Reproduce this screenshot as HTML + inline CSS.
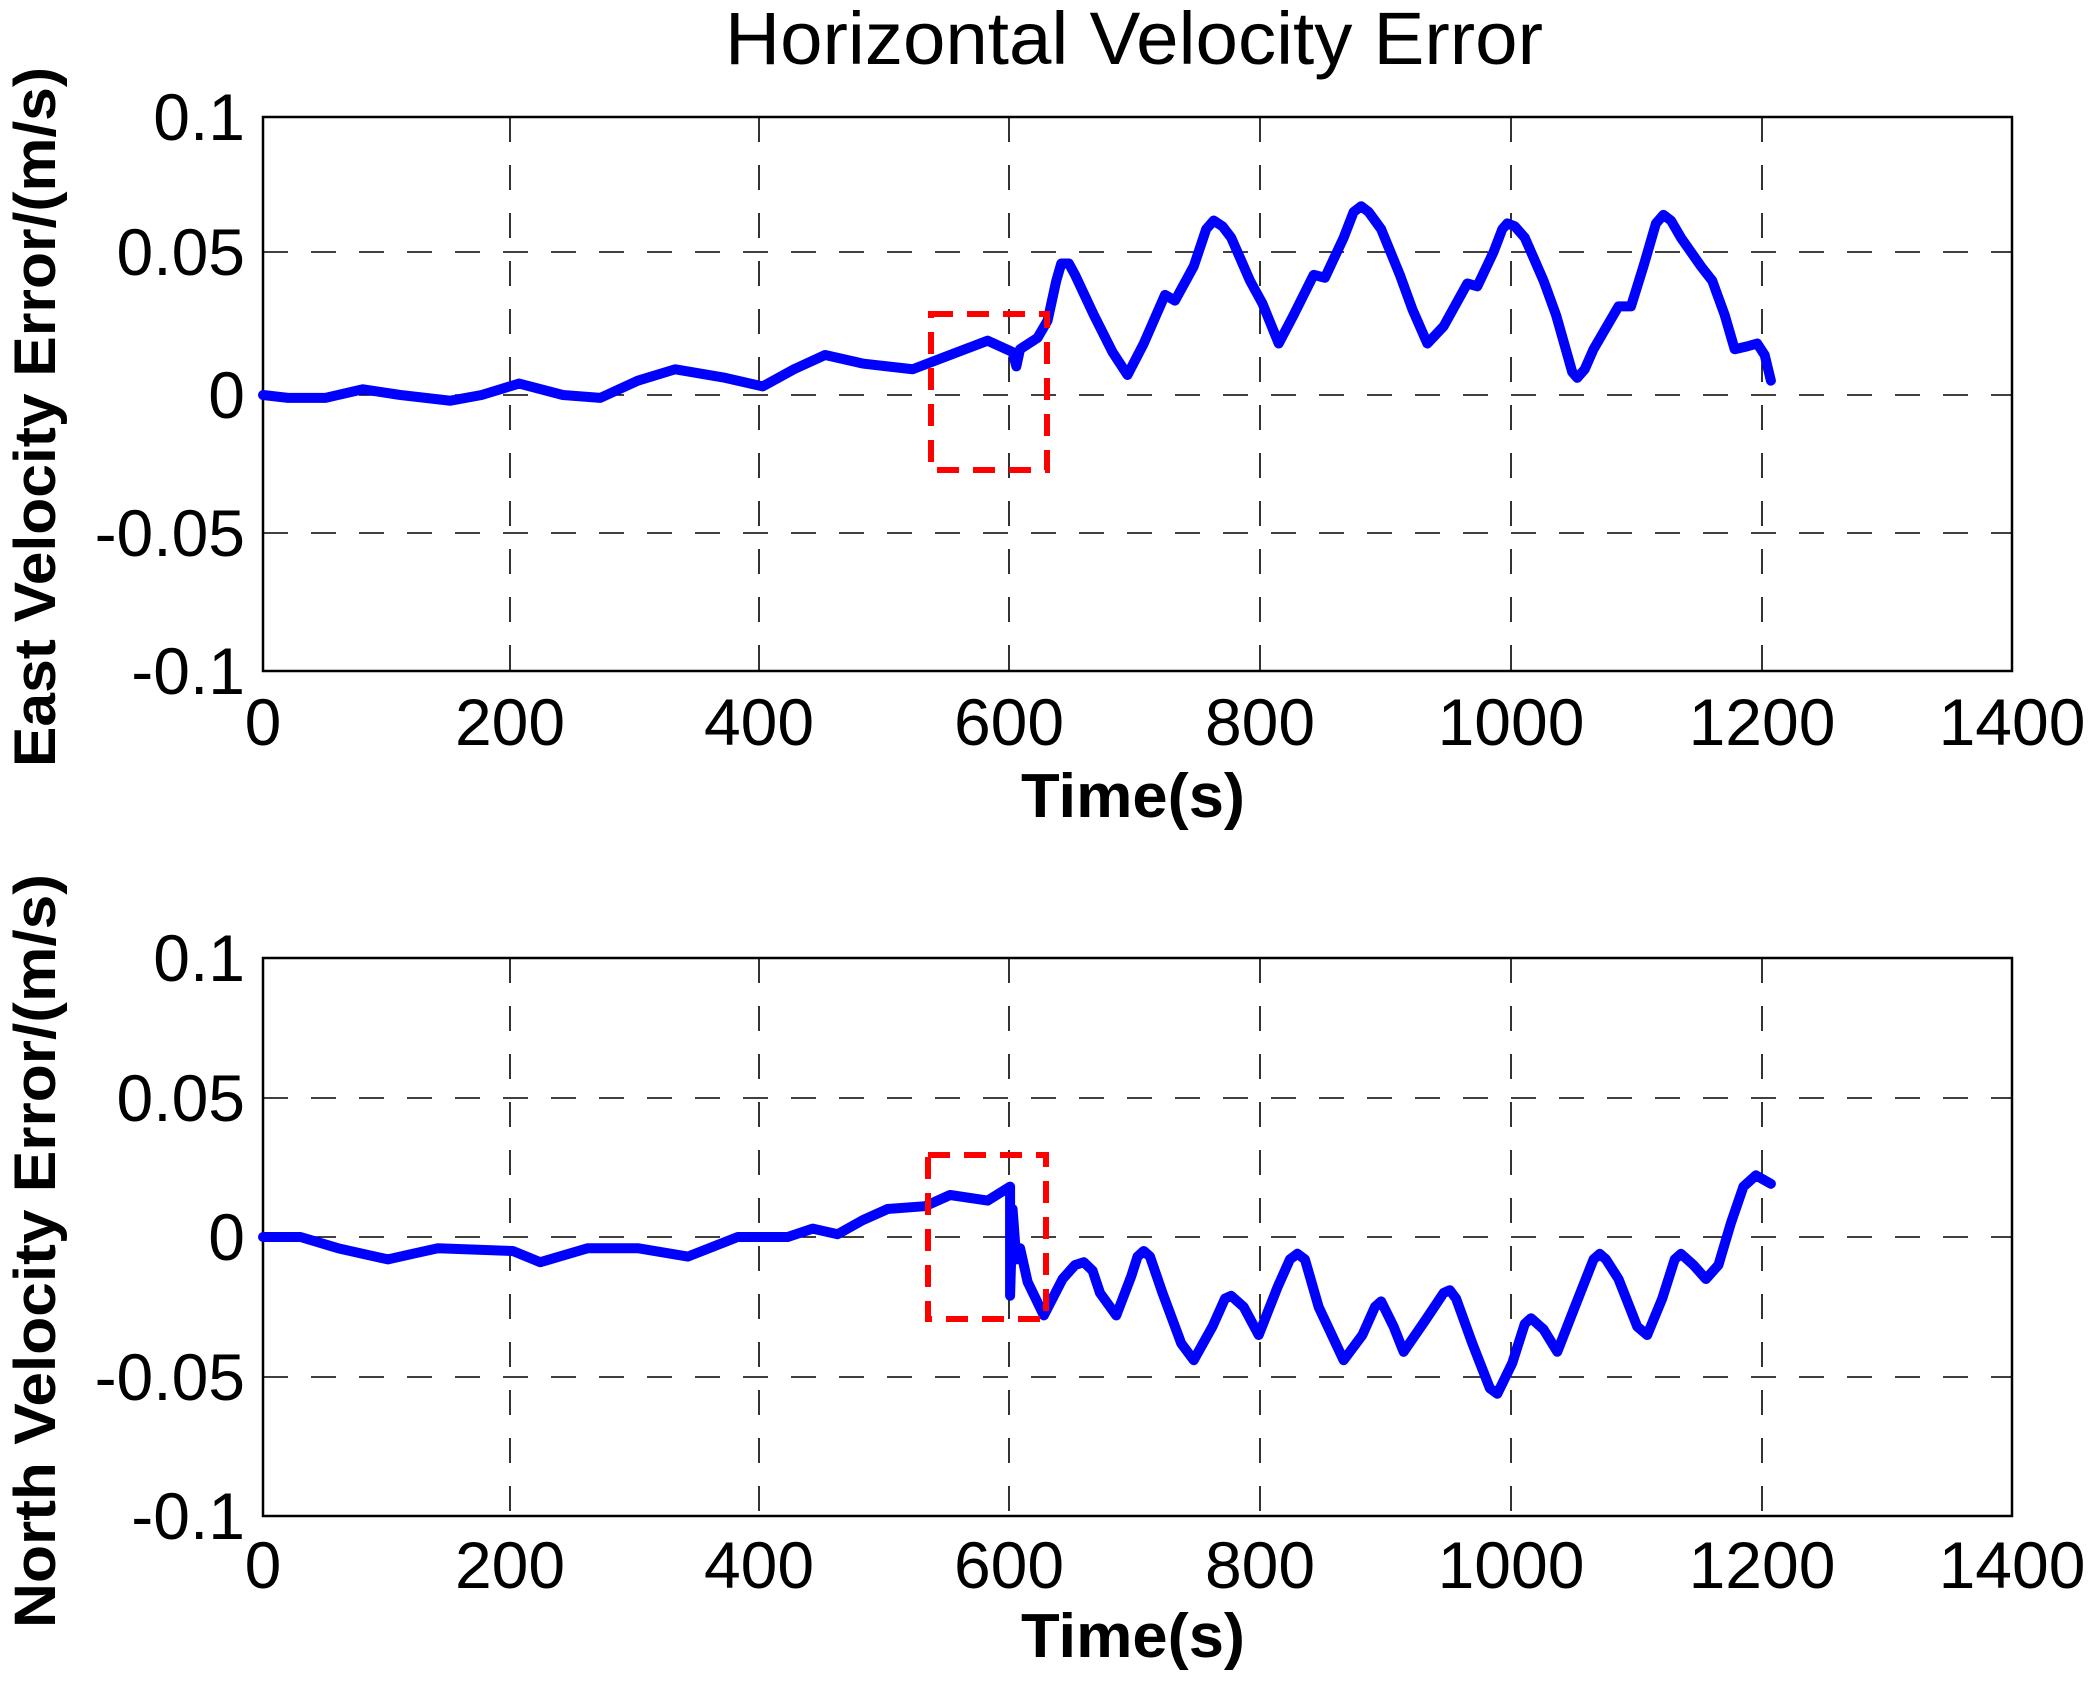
<!DOCTYPE html>
<html><head><meta charset="utf-8"><style>
html,body{margin:0;padding:0;background:#fff}
svg{display:block}
text{font-family:"Liberation Sans",Arial,sans-serif;fill:#000}
</style></head><body>
<svg width="2092" height="1683" viewBox="0 0 2092 1683" xmlns="http://www.w3.org/2000/svg">
<rect width="2092" height="1683" fill="#fff"/>
<text x="1134" y="64" font-size="74" text-anchor="middle" textLength="818" lengthAdjust="spacingAndGlyphs">Horizontal Velocity Error</text>

<!-- TOP PANEL -->
<g stroke="#000" stroke-width="1.6" stroke-dasharray="25 23" fill="none">
<line x1="263" y1="252" x2="2012" y2="252"/>
<line x1="263" y1="395" x2="2012" y2="395"/>
<line x1="263" y1="533" x2="2012" y2="533"/>
<line x1="510" y1="117" x2="510" y2="671"/>
<line x1="759" y1="117" x2="759" y2="671"/>
<line x1="1009" y1="117" x2="1009" y2="671"/>
<line x1="1260" y1="117" x2="1260" y2="671"/>
<line x1="1511" y1="117" x2="1511" y2="671"/>
<line x1="1762" y1="117" x2="1762" y2="671"/>
</g>
<rect x="263" y="117" width="1749" height="554" fill="none" stroke="#000" stroke-width="2.5"/>
<g font-size="66" text-anchor="end">
<text x="245" y="140">0.1</text>
<text x="245" y="275">0.05</text>
<text x="245" y="418">0</text>
<text x="245" y="556">-0.05</text>
<text x="245" y="694">-0.1</text>
</g>
<g font-size="66" text-anchor="middle">
<text x="263" y="745">0</text><text x="510" y="745">200</text><text x="759" y="745">400</text><text x="1009" y="745">600</text><text x="1260" y="745">800</text><text x="1511" y="745">1000</text><text x="1762" y="745">1200</text><text x="2012" y="745">1400</text>
</g>
<text x="1133" y="817" font-size="62" font-weight="bold" text-anchor="middle" textLength="224" lengthAdjust="spacingAndGlyphs">Time(s)</text>
<text transform="translate(55,417) rotate(-90)" font-size="58" font-weight="bold" text-anchor="middle" textLength="700" lengthAdjust="spacingAndGlyphs">East Velocity Error/(m/s)</text>

<g transform="translate(263,395) scale(1.2493,-2.86)">
<polyline vector-effect="non-scaling-stroke" fill="none" stroke="#0000ff" stroke-width="10" stroke-linejoin="round" stroke-linecap="round"
points="0,0 20,-1 50,-1 80,2 110,0 150,-2 175,0 205,4 240,0 270,-1 300,5 330,9 370,6 400,3 425,9 450,14 480,11 520,9 550,14 580,19 600,15 603,10 606,16 620,20 628,26 635,40 639,46 645,46 650,42 665,28 680,15 692,7 705,18 722,35 730,33 745,45 755,58 761,61 768,59 775,55 790,40 800,32 813,18 825,28 841,42 850,41 865,55 873,64 879,66 885,64 895,58 910,42 920,30 932,18 945,24 964,39 972,38 985,50 992,58 996,60 1002,59 1010,55 1025,40 1035,28 1048,8 1052,6 1058,9 1065,16 1085,31 1095,31 1105,45 1115,60 1121,63 1127,61 1135,55 1151,45 1160,40 1170,28 1178,16 1188,17 1196,18 1202,14 1207,5"/>
</g>
<rect x="931" y="314" width="116" height="156" fill="none" stroke="#ff0000" stroke-width="6" stroke-dasharray="22 14"/>

<!-- BOTTOM PANEL -->
<g stroke="#000" stroke-width="1.6" stroke-dasharray="25 23" fill="none">
<line x1="263" y1="1098" x2="2012" y2="1098"/>
<line x1="263" y1="1237" x2="2012" y2="1237"/>
<line x1="263" y1="1377" x2="2012" y2="1377"/>
<line x1="510" y1="958" x2="510" y2="1516"/>
<line x1="759" y1="958" x2="759" y2="1516"/>
<line x1="1009" y1="958" x2="1009" y2="1516"/>
<line x1="1260" y1="958" x2="1260" y2="1516"/>
<line x1="1511" y1="958" x2="1511" y2="1516"/>
<line x1="1762" y1="958" x2="1762" y2="1516"/>
</g>
<rect x="263" y="958" width="1749" height="558" fill="none" stroke="#000" stroke-width="2.5"/>
<g font-size="66" text-anchor="end">
<text x="245" y="981">0.1</text>
<text x="245" y="1121">0.05</text>
<text x="245" y="1260">0</text>
<text x="245" y="1400">-0.05</text>
<text x="245" y="1539">-0.1</text>
</g>
<g font-size="66" text-anchor="middle">
<text x="263" y="1588">0</text><text x="510" y="1588">200</text><text x="759" y="1588">400</text><text x="1009" y="1588">600</text><text x="1260" y="1588">800</text><text x="1511" y="1588">1000</text><text x="1762" y="1588">1200</text><text x="2012" y="1588">1400</text>
</g>
<text x="1133" y="1657" font-size="62" font-weight="bold" text-anchor="middle" textLength="224" lengthAdjust="spacingAndGlyphs">Time(s)</text>
<text transform="translate(55,1251) rotate(-90)" font-size="58" font-weight="bold" text-anchor="middle" textLength="754" lengthAdjust="spacingAndGlyphs">North Velocity Error/(m/s)</text>

<g transform="translate(263,1237) scale(1.2493,-2.8)">
<polyline vector-effect="non-scaling-stroke" fill="none" stroke="#0000ff" stroke-width="10" stroke-linejoin="round" stroke-linecap="round"
points="0,0 30,0 60,-4 100,-8 120,-6 140,-4 200,-5 222,-9 260,-4 300,-4 340,-7 380,0 420,0 440,3 460,1 480,6 500,10 530,11 550,15 580,13 598,18 598,-21 600,10 603,-8 606,-4 612,-16 625,-28 640,-15 650,-10 657,-9 664,-12 670,-20 683,-28 695,-14 700,-7 705,-5 710,-7 720,-20 735,-38 745,-44 760,-32 770,-22 775,-21 785,-25 797,-35 812,-18 822,-8 828,-6 834,-8 845,-25 865,-44 880,-35 890,-25 895,-23 905,-32 913,-41 930,-30 945,-20 950,-19 955,-22 968,-38 982,-54 988,-56 1000,-45 1010,-31 1015,-29 1025,-33 1036,-41 1050,-25 1065,-8 1070,-6 1075,-8 1085,-15 1100,-32 1108,-35 1120,-22 1130,-8 1135,-6 1145,-10 1155,-15 1165,-10 1175,5 1185,18 1195,22 1207,19"/>
</g>
<rect x="928" y="1155" width="118" height="164" fill="none" stroke="#ff0000" stroke-width="6" stroke-dasharray="22 14"/>
</svg>
</body></html>
